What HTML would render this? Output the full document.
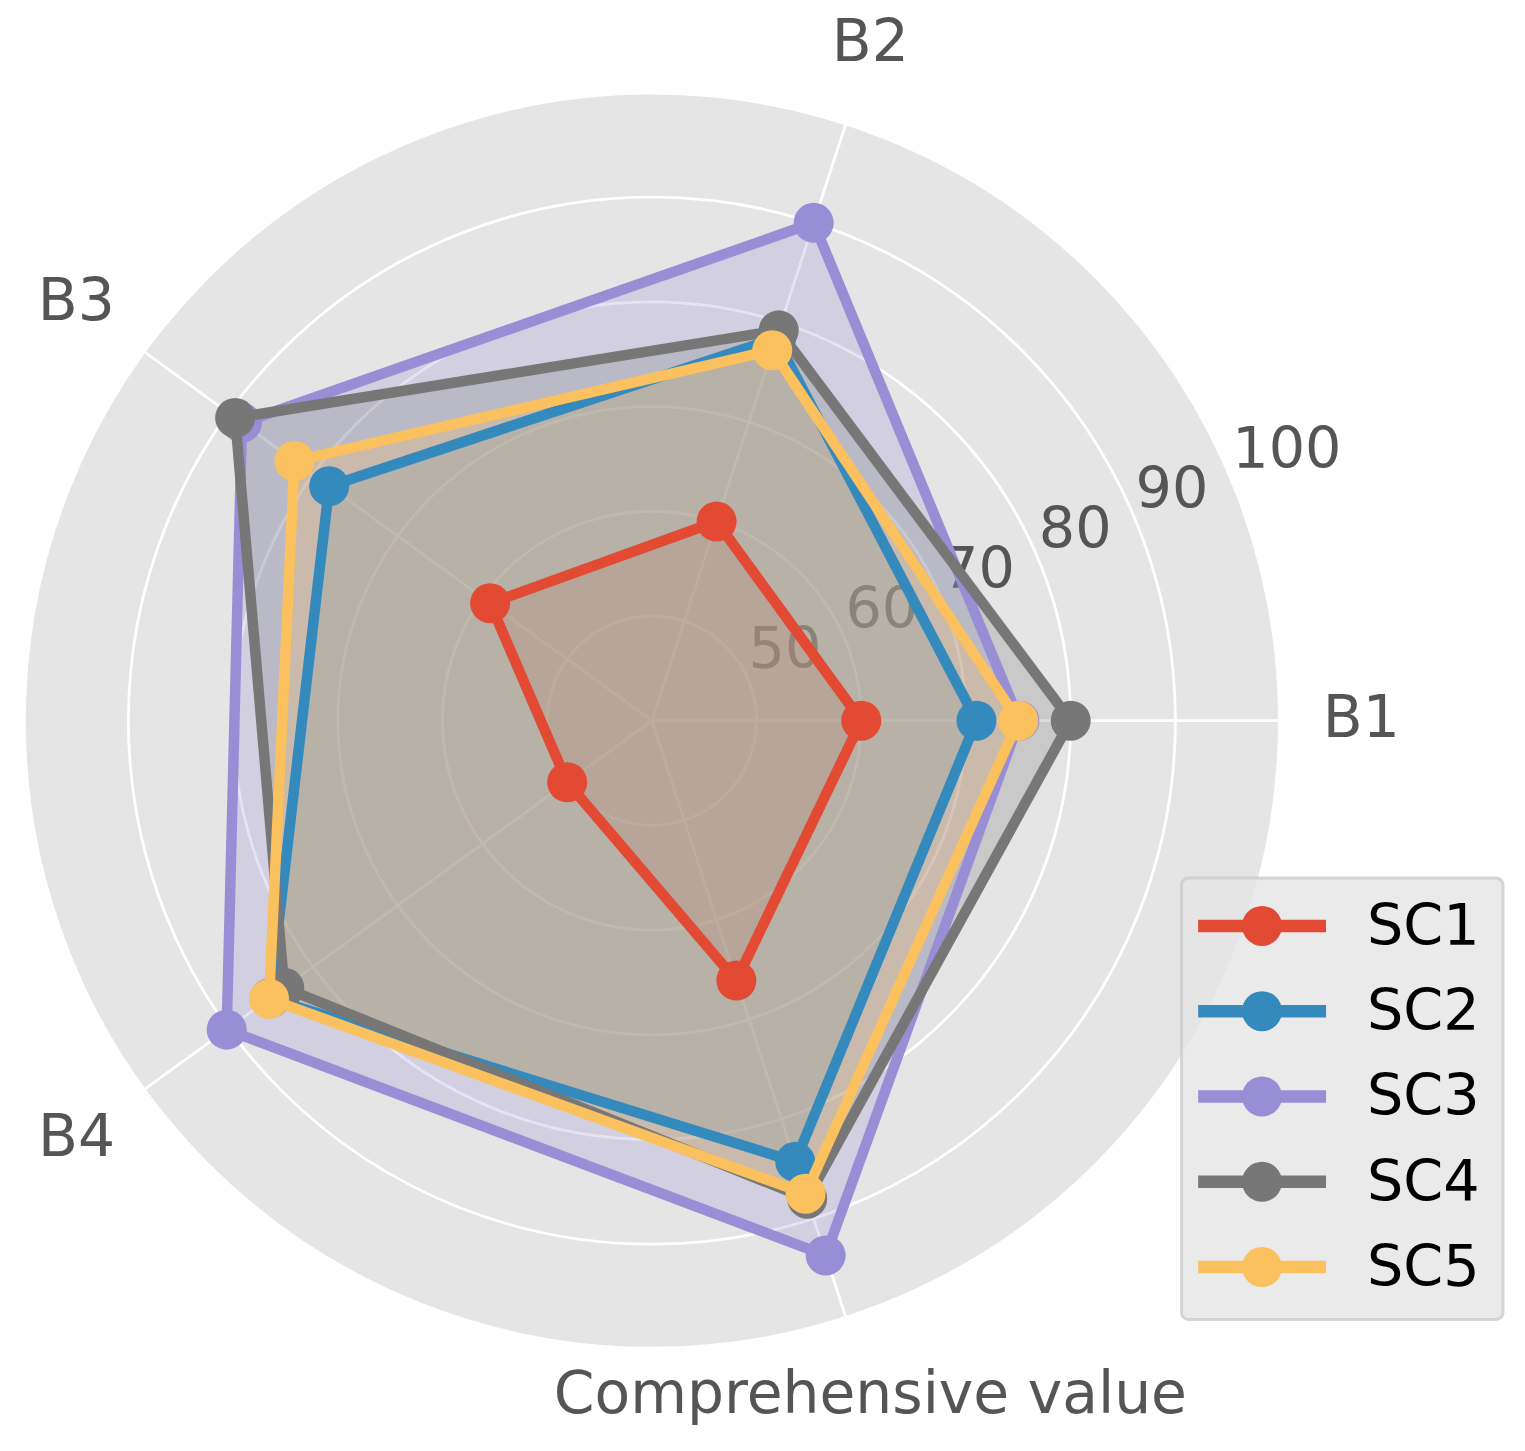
<!DOCTYPE html>
<html lang="en"><head><meta charset="utf-8"><title>Radar chart</title>
<style>html,body{margin:0;padding:0;background:#fff}svg{display:block}</style></head>
<body>
<svg width="1525" height="1451" viewBox="0 0 1525 1451" font-family="'DejaVu Sans', 'Liberation Sans', sans-serif" font-size="57.2">
<rect width="1525" height="1451" fill="#fff"/>
<circle cx="651.9" cy="720.7" r="628.20" fill="#E5E5E5"/>
<g fill="none" stroke="#fff" stroke-width="2.8"><circle cx="651.9" cy="720.7" r="104.70"/><circle cx="651.9" cy="720.7" r="209.40"/><circle cx="651.9" cy="720.7" r="314.10"/><circle cx="651.9" cy="720.7" r="418.80"/><circle cx="651.9" cy="720.7" r="523.50"/><line x1="651.9" y1="720.7" x2="1280.10" y2="720.70"/><line x1="651.9" y1="720.7" x2="846.02" y2="123.25"/><line x1="651.9" y1="720.7" x2="143.68" y2="351.45"/><line x1="651.9" y1="720.7" x2="143.68" y2="1089.95"/><line x1="651.9" y1="720.7" x2="846.02" y2="1318.15"/></g>
<g fill="#555555"><text x="748.6" y="667.8">50</text><text x="845.4" y="627.8">60</text><text x="942.1" y="587.7">70</text><text x="1038.8" y="547.6">80</text><text x="1135.6" y="507.6">90</text><text x="1232.3" y="467.5">100</text></g>
<polygon points="861.30,720.70 716.61,521.55 490.12,603.16 567.20,782.24 736.34,980.59" fill="#E24A33" fill-opacity="0.25"/>
<polygon points="976.47,720.70 776.14,338.33 329.18,486.23 269.88,998.25 795.23,1161.82" fill="#348ABD" fill-opacity="0.25"/>
<polygon points="1019.40,720.70 813.67,222.82 241.93,422.84 226.69,1029.64 825.64,1255.42" fill="#988ED5" fill-opacity="0.25"/>
<polygon points="1070.70,720.70 778.73,330.36 235.16,417.92 284.28,987.79 807.20,1198.66" fill="#777777" fill-opacity="0.25"/>
<polygon points="1018.35,720.70 772.26,350.28 294.45,461.00 269.04,998.87 805.58,1193.68" fill="#FBC15E" fill-opacity="0.25"/>
<polygon points="861.30,720.70 716.61,521.55 490.12,603.16 567.20,782.24 736.34,980.59" fill="none" stroke="#E24A33" stroke-width="10.5" stroke-linejoin="round"/>
<g fill="#E24A33"><circle cx="861.30" cy="720.70" r="20.00"/><circle cx="716.61" cy="521.55" r="20.00"/><circle cx="490.12" cy="603.16" r="20.00"/><circle cx="567.20" cy="782.24" r="20.00"/><circle cx="736.34" cy="980.59" r="20.00"/></g>
<polygon points="976.47,720.70 776.14,338.33 329.18,486.23 269.88,998.25 795.23,1161.82" fill="none" stroke="#348ABD" stroke-width="10.5" stroke-linejoin="round"/>
<g fill="#348ABD"><circle cx="976.47" cy="720.70" r="20.00"/><circle cx="776.14" cy="338.33" r="20.00"/><circle cx="329.18" cy="486.23" r="20.00"/><circle cx="269.88" cy="998.25" r="20.00"/><circle cx="795.23" cy="1161.82" r="20.00"/></g>
<polygon points="1019.40,720.70 813.67,222.82 241.93,422.84 226.69,1029.64 825.64,1255.42" fill="none" stroke="#988ED5" stroke-width="10.5" stroke-linejoin="round"/>
<g fill="#988ED5"><circle cx="1019.40" cy="720.70" r="20.00"/><circle cx="813.67" cy="222.82" r="20.00"/><circle cx="241.93" cy="422.84" r="20.00"/><circle cx="226.69" cy="1029.64" r="20.00"/><circle cx="825.64" cy="1255.42" r="20.00"/></g>
<polygon points="1070.70,720.70 778.73,330.36 235.16,417.92 284.28,987.79 807.20,1198.66" fill="none" stroke="#777777" stroke-width="10.5" stroke-linejoin="round"/>
<g fill="#777777"><circle cx="1070.70" cy="720.70" r="20.00"/><circle cx="778.73" cy="330.36" r="20.00"/><circle cx="235.16" cy="417.92" r="20.00"/><circle cx="284.28" cy="987.79" r="20.00"/><circle cx="807.20" cy="1198.66" r="20.00"/></g>
<polygon points="1018.35,720.70 772.26,350.28 294.45,461.00 269.04,998.87 805.58,1193.68" fill="none" stroke="#FBC15E" stroke-width="10.5" stroke-linejoin="round"/>
<g fill="#FBC15E"><circle cx="1018.35" cy="720.70" r="20.00"/><circle cx="772.26" cy="350.28" r="20.00"/><circle cx="294.45" cy="461.00" r="20.00"/><circle cx="269.04" cy="998.87" r="20.00"/><circle cx="805.58" cy="1193.68" r="20.00"/></g>
<circle cx="651.9" cy="720.7" r="628.20" fill="none" stroke="#fff" stroke-width="4.2"/>
<g fill="#555555" font-size="58.3"><text x="1361.4" y="737.3" text-anchor="middle">B1</text><text x="870.4" y="61.2" text-anchor="middle">B2</text><text x="76.4" y="320.3" text-anchor="middle">B3</text><text x="76.6" y="1156.3" text-anchor="middle">B4</text><text x="870.4" y="1412.6" text-anchor="middle">Comprehensive value</text></g>
<rect x="1181.5" y="878" width="321.5" height="441.5" rx="7" fill="#E5E5E5" fill-opacity="0.8" stroke="#CCCCCC" stroke-opacity="0.8" stroke-width="3"/>
<line x1="1204.4" y1="925.9" x2="1319.8" y2="925.9" stroke="#E24A33" stroke-width="12.5" stroke-linecap="square"/>
<circle cx="1262" cy="925.9" r="20.0" fill="#E24A33"/>
<text x="1367" y="944.7" fill="#000">SC1</text>
<line x1="1204.4" y1="1011.2" x2="1319.8" y2="1011.2" stroke="#348ABD" stroke-width="12.5" stroke-linecap="square"/>
<circle cx="1262" cy="1011.2" r="20.0" fill="#348ABD"/>
<text x="1367" y="1030.0" fill="#000">SC2</text>
<line x1="1204.4" y1="1096.5" x2="1319.8" y2="1096.5" stroke="#988ED5" stroke-width="12.5" stroke-linecap="square"/>
<circle cx="1262" cy="1096.5" r="20.0" fill="#988ED5"/>
<text x="1367" y="1115.3" fill="#000">SC3</text>
<line x1="1204.4" y1="1181.8" x2="1319.8" y2="1181.8" stroke="#777777" stroke-width="12.5" stroke-linecap="square"/>
<circle cx="1262" cy="1181.8" r="20.0" fill="#777777"/>
<text x="1367" y="1200.6" fill="#000">SC4</text>
<line x1="1204.4" y1="1267.1" x2="1319.8" y2="1267.1" stroke="#FBC15E" stroke-width="12.5" stroke-linecap="square"/>
<circle cx="1262" cy="1267.1" r="20.0" fill="#FBC15E"/>
<text x="1367" y="1285.9" fill="#000">SC5</text>
</svg>
</body></html>
